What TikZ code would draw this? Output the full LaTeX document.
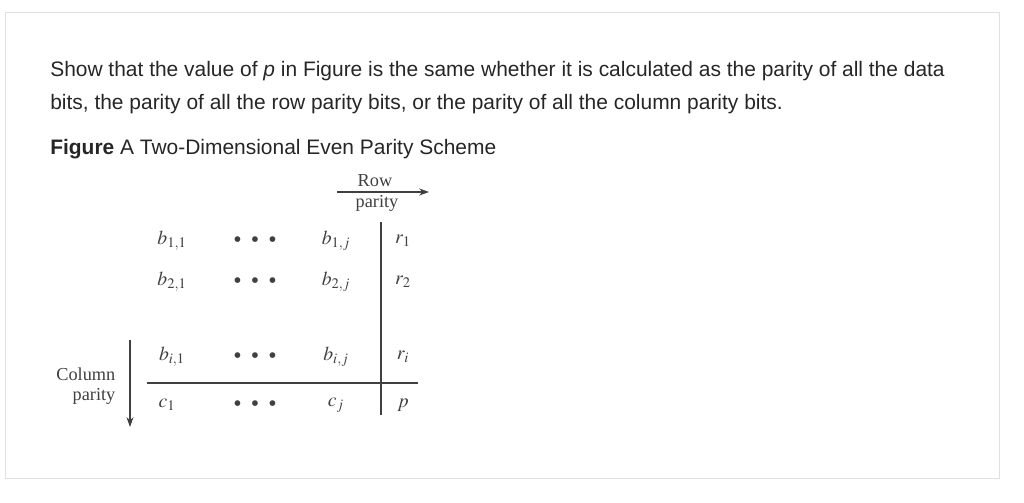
\documentclass[tikz,border=0pt]{standalone}
\usepackage{mathptmx}
\usepackage{fontspec}
\setmainfont{Liberation Sans}
\newfontfamily\figfont{Liberation Serif}
\usetikzlibrary{positioning,calc,arrows.meta}
\newcommand{\bit}[2]{{b_{#1,#2}}}
\newcommand{\hdots}{\textbullet\hspace{6.5pt}\textbullet\hspace{6.5pt}\textbullet}
\colorlet{colorTXT}{black!85}
\colorlet{colorFIG}{black!75}
\colorlet{colorFRAME}{black!12}
\tikzset{
   every path/.style={>={Stealth[length=7pt,width=5pt]}},
   txt/.style={anchor=base west,inner sep=0pt,font=\fontsize{14.9}{17}\selectfont,color=colorTXT},
   lab/.style={inner sep=1pt,font=\figfont\fontsize{13}{15}\selectfont,color=colorFIG},
   ent/.style={inner sep=1pt,font=\fontsize{14}{16}\selectfont,color=colorFIG},
   dots/.style={inner sep=1pt,font=\figfont\fontsize{17}{19}\selectfont,color=colorFIG},
   sep/.style={-,color=colorFIG,line width=1pt},
   par/.style={->,color=colorFIG,line width=0.8pt},
}

\begin{document}
\begin{tikzpicture}[x=0.025cm, y=-0.025cm]
    \useasboundingbox (0,0) rectangle (1024,503);
    \draw[colorFRAME, line width=0.6pt] (5,12) rectangle (999,478);

    % question text
    \node[txt] (qa) at (50,77) {Show that the value of \textit{p} in Figure is the same whether it is calculated as the parity of all the data};
    \node[txt] (qb) at (50,110) {bits, the parity of all the row parity bits, or the parity of all the column parity bits.};
    \node[txt] (cap) at (50,155) {\textbf{Figure} A Two-Dimensional Even Parity Scheme};

    % row parity
    \node[lab] (rowa) at (375,181) {Row};
    \node[lab] (rowb) at (377,203) {parity};
    \coordinate (rs) at (337,192);
    \coordinate (re) at (429,192);
    \draw[par] (rs) -- (re);

    % entries
    \node[ent] (baa) at (172,241) {$\bit{1}{1}$};
    \node[dots] (da) at (255,242) {\hdots};
    \node[ent] (baj) at (336,241) {$\bit{1}{j}$};
    \node[ent] (ra)  at (403,241) {$r_1$};

    \node[ent] (bba) at (172,282) {$\bit{2}{1}$};
    \node[dots] (db) at (255,283) {\hdots};
    \node[ent] (bbj) at (336,282) {$\bit{2}{j}$};
    \node[ent] (rb)  at (403,282) {$r_2$};

    \node[ent] (bia) at (172,357) {$\bit{i}{1}$};
    \node[dots] (di) at (255,358) {\hdots};
    \node[ent] (bij) at (336,357) {$\bit{i}{j}$};
    \node[ent] (ri)  at (403,357) {$r_i$};

    \node[ent] (ca) at (167,405) {$c_1$};
    \node[dots] (dc) at (255,406) {\hdots};
    \node[ent] (cj) at (336,405) {$c_j$};
    \node[ent] (pp) at (403,405) {$p$};

    % separators
    \coordinate (vt) at (381,222);
    \coordinate (vb) at (381,415);
    \coordinate (hl) at (147,383);
    \coordinate (hr) at (418,383);
    \draw[sep] (vt) -- (vb);
    \draw[sep] (hl) -- (hr);

    % column parity
    \node[lab, anchor=east] (cola) at (117,374) {Column};
    \node[lab, anchor=east] (colb) at (117,396) {parity};
    \coordinate (cs) at (130,340);
    \coordinate (ce) at (130,427);
    \draw[par] (cs) -- (ce);

\end{tikzpicture}
\end{document}
